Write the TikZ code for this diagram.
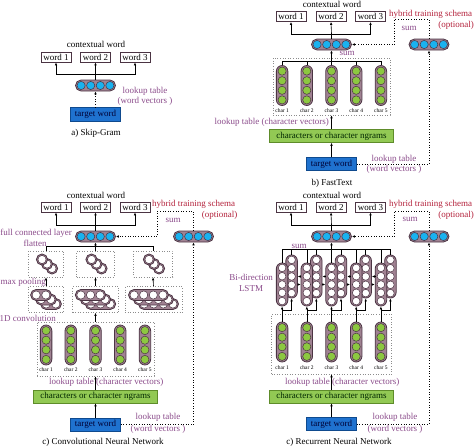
\documentclass[tikz,border=0pt]{standalone}
\usepackage{fontspec}
\setmainfont{Liberation Serif}
\usetikzlibrary{calc,arrows.meta}

\definecolor{edge}{HTML}{4B3443}
\definecolor{mauve}{HTML}{A08292}
\definecolor{cblue}{HTML}{1AB2EF}
\definecolor{cgreen}{HTML}{8CC840}
\definecolor{tblue}{HTML}{1F72CF}
\definecolor{tbord}{HTML}{0F4A8E}
\definecolor{gfill}{HTML}{92C954}
\definecolor{gbord}{HTML}{5E8C2A}
\definecolor{lab}{HTML}{8A4A8A}
\definecolor{hyb}{HTML}{B3203A}
\definecolor{dotc}{HTML}{8C8C8C}

\tikzset{
 txt/.style={font=\fontsize{9}{10.5}\selectfont, inner sep=0pt},
 labtxt/.style={txt, text=lab},
 hybtxt/.style={txt, text=hyb},
 chartxt/.style={font=\fontsize{5.5}{6}\selectfont, inner sep=0pt},
 wordbox/.style={draw=edge, fill=white, line width=0.8pt, minimum width=30pt, minimum height=10pt, inner sep=0pt, font=\fontsize{9}{10}\selectfont},
 targetbox/.style={draw=tbord, fill=tblue, line width=0.6pt, minimum width=50pt, minimum height=13pt, inner sep=0pt, text={black!80!blue}, font=\fontsize{9}{10}\selectfont},
 greenbox/.style={draw=gbord, fill=gfill, line width=0.6pt, minimum width=124pt, minimum height=13pt, inner sep=0pt, text={black!85!green}, font=\fontsize{9}{10}\selectfont},
 vecbox/.style={draw=edge, fill=mauve, line width=0.8pt, rounded corners=5.5pt, inner sep=0pt},
 cc/.style={draw=edge, line width=0.5pt},
 dotbox/.style={draw=dotc, dotted, line width=0.6pt, inner sep=0pt},
 arr/.style={-{Latex[length=3pt,width=2.6pt]}, line width=0.6pt},
 ln/.style={line width=0.6pt},
 dotarr/.style={arr, dotted, line width=0.8pt},
}

\newcommand{\mkHvec}[5]{%
 \node[vecbox, minimum width={#4*9.6pt+1.6pt}, minimum height=11pt] (#1) at (#2,#3) {};
 \foreach \k in {1,...,#4}{\fill[#5, cc] ({#2+(\k-(#4+1)/2)*9.6},#3) circle[radius=4.1pt];}
}
\newcommand{\mkVvec}[7]{%
 \node[vecbox, rounded corners=5.75pt, minimum width=11.5pt, minimum height={#4*#6pt+1.6pt}] (#1) at (#2,#3) {};
 \foreach \k in {1,...,#4}{\fill[#5, cc] (#2,{#3+(\k-(#4+1)/2)*#6}) circle[radius=#7pt];}
}
\newcommand{\mkStack}[3]{%
 \foreach \L in {2,1,0}{
  \pgfmathsetmacro{\stX}{#1-5+5*\L}
  \pgfmathsetmacro{\stY}{#2-4.5+4.5*\L}
  \fill[vecbox] ({\stX-(#3*9.6+1.6)/2},{\stY-5.5}) rectangle ({\stX+(#3*9.6+1.6)/2},{\stY+5.5});
  \foreach \k in {1,...,#3}{\fill[white, cc] ({\stX+(\k-(#3+1)/2)*9.6},\stY) circle[radius=4.1pt];}
 }
}

\begin{document}
\begin{tikzpicture}[x=1pt,y=-1pt]
\useasboundingbox (0,0) rectangle (474,447);

%================ a) Skip-Gram
\node[txt] (actx) at (96,44) {contextual word};
\node[wordbox] (aw1) at (56,57) {word 1};
\node[wordbox] (aw2) at (95.5,57) {word 2};
\node[wordbox] (aw3) at (135,57) {word 3};
\mkHvec{avec}{95.5}{85.5}{4}{cblue}
\node[targetbox, minimum height=14pt] (atw) at (95.5,114.5) {target word};
\coordinate (aj) at (95.5,74);
\draw[ln] (avec.north) -- (aj);
\draw[arr] (aj) -| (aw1.south);
\draw[arr] (aj) -| (aw3.south);
\draw[arr] (aj) -- (aw2.south);
\draw[dotarr] (atw.north) -- (avec.south);
\node[labtxt] (alk1) at (145,91) {lookup table};
\node[labtxt] (alk2) at (145,101.5) {(word vectors )};
\node[txt] (acap) at (96,133) {a) Skip-Gram};

%================ b) FastText
\node[txt] (bctx) at (332,4.5) {contextual word};
\node[wordbox] (bw1) at (291,16.5) {word 1};
\node[wordbox] (bw2) at (331,16.5) {word 2};
\node[wordbox] (bw3) at (370.5,16.5) {word 3};
\node[hybtxt, anchor=west] (bhy) at (389,14) {hybrid training schema};
\node[hybtxt, anchor=east] (bop) at (474,25) {(optional)};
\mkHvec{bvec}{331.5}{44.5}{4}{cblue}
\mkHvec{bvec2}{429}{44.5}{4}{cblue}
\coordinate (bj) at (331.5,34);
\draw[ln] (bvec.north) -- (bj);
\draw[arr] (bj) -| (bw1.south);
\draw[arr] (bj) -| (bw3.south);
\draw[arr] (bj) -- (bw2.south);
\node[labtxt] (bsum1) at (409,28) {sum};
\draw[dotarr] (bvec2.north) -- ++(0,-19) -| ($(bvec.east)+(42,0)$) -- (bvec.east);
\node[labtxt] (bsum2) at (347,53) {sum};
\node[dotbox, minimum width=117pt, minimum height=57pt] (bcbox) at (331.5,86.5) {};
\foreach \i in {1,...,5}{
 \pgfmathsetmacro{\chX}{331.5+(\i-3)*24.7}
 \mkVvec{bc\i}{\chX}{85.5}{4}{cgreen}{9.6}{4.1}
 \node[chartxt] (bcl\i) at (\chX,111) {char \i};
}
\draw[ln] (bc1.north) -- ++(0,-4) -| (bc5.north);
\draw[ln] (bc2.north) -- ++(0,-4);
\draw[ln] (bc4.north) -- ++(0,-4);
\draw[arr] (bc3.north) -- (bvec.south);
\node[labtxt, anchor=east] (blkc) at (329,122) {lookup table (character vectors)};
\node[greenbox] (bgr) at (331.5,136) {characters or character ngrams};
\draw[arr] (bgr.north) -- (bcbox.south);
\node[targetbox] (btw) at (331.5,164) {target word};
\draw[arr] (btw.north) -- (bgr.south);
\draw[dotarr] (btw.east) -| (bvec2.south);
\node[labtxt] (blk1) at (394,159) {lookup table};
\node[labtxt] (blk2) at (394,169.5) {(word vectors )};
\node[txt] (bcap) at (332,183) {b) FastText};

%================ c) CNN
\node[txt] (cctx) at (96,195) {contextual word};
\node[wordbox] (cw1) at (56,207) {word 1};
\node[wordbox] (cw2) at (95.5,207) {word 2};
\node[wordbox] (cw3) at (135,207) {word 3};
\node[hybtxt, anchor=west] (chy) at (152,204) {hybrid training schema};
\node[hybtxt, anchor=east] (cop) at (237.5,215) {(optional)};
\mkHvec{cvec}{95.5}{236.5}{4}{cblue}
\mkHvec{cvec2}{193.5}{236.5}{4}{cblue}
\coordinate (cj) at (95.5,225);
\draw[ln] (cvec.north) -- (cj);
\draw[arr] (cj) -| (cw1.south);
\draw[arr] (cj) -| (cw3.south);
\draw[arr] (cj) -- (cw2.south);
\node[labtxt] (csum1) at (173,220) {sum};
\draw[dotarr] (cvec2.north) -- ++(0,-19) -| ($(cvec.east)+(41,0)$) -- (cvec.east);
\node[labtxt, anchor=east] (cfc) at (72,233) {full connected layer};
\node[labtxt] (cfl) at (35,243) {flatten};
\node[dotbox, minimum width=35pt, minimum height=26pt] (cp1) at (46,264) {};
\node[dotbox, minimum width=38pt, minimum height=26pt] (cp2) at (95.5,264) {};
\node[dotbox, minimum width=39pt, minimum height=26pt] (cp3) at (153,264) {};
\mkStack{47}{264}{1}
\mkStack{96.5}{264}{1}
\mkStack{154}{264}{1}
\node[dotbox, minimum width=35pt, minimum height=26pt] (cv1) at (46,299.5) {};
\node[dotbox, minimum width=46pt, minimum height=26pt] (cv2) at (95.5,299.5) {};
\node[dotbox, minimum width=57pt, minimum height=26pt] (cv3) at (153.5,299.5) {};
\mkStack{46}{299.5}{2}
\mkStack{95.5}{299.5}{3}
\mkStack{153.5}{299.5}{4}
\draw[ln] (cp1.north) -- ++(0,-4) -| (cp3.north);
\draw[arr] (cp2.north) -- (cvec.south);
\draw[arr] (cv1.north) -- (cp1.south);
\draw[arr] (cv2.north) -- (cp2.south);
\draw[arr] (cv3.north) -- (cp3.south);
\node[labtxt, anchor=east] (cmp) at (46,282) {max pooling};
\node[labtxt, anchor=east] (ccv) at (56,318) {1D convolution};
\node[dotbox, minimum width=117pt, minimum height=54pt] (ccbox) at (95.5,349) {};
\foreach \i in {1,...,5}{
 \pgfmathsetmacro{\chX}{95.5+(\i-3)*24.7}
 \mkVvec{cc\i}{\chX}{345}{4}{cgreen}{9.6}{4.1}
 \node[chartxt] (ccl\i) at (\chX,370) {char \i};
}
\draw[arr] (ccbox.north) -- (cv2.south);
\node[labtxt, anchor=west] (clkc) at (49,382) {lookup table (character vectors)};
\node[greenbox] (cgr) at (95.5,396.5) {characters or character ngrams};
\draw[arr] (cgr.north) -- (ccbox.south);
\node[targetbox] (ctw) at (95.5,424.5) {target word};
\draw[arr] (ctw.north) -- (cgr.south);
\draw[dotarr] (ctw.east) -| (cvec2.south);
\node[labtxt] (clk1) at (158,417) {lookup table};
\node[labtxt] (clk2) at (158,429) {(word vectors )};
\node[txt] (ccap) at (103,442) {c) Convolutional Neural Network};

%================ d) RNN
\node[txt] (dctx) at (332,195) {contextual word};
\node[wordbox] (dw1) at (291,207) {word 1};
\node[wordbox] (dw2) at (331,207) {word 2};
\node[wordbox] (dw3) at (370.5,207) {word 3};
\node[hybtxt, anchor=west] (dhy) at (389,204) {hybrid training schema};
\node[hybtxt, anchor=east] (dop) at (474,215) {(optional)};
\mkHvec{dvec}{331.5}{236.5}{4}{cblue}
\mkHvec{dvec2}{429}{236.5}{4}{cblue}
\coordinate (dj) at (331.5,225);
\draw[ln] (dvec.north) -- (dj);
\draw[arr] (dj) -| (dw1.south);
\draw[arr] (dj) -| (dw3.south);
\draw[arr] (dj) -- (dw2.south);
\node[labtxt] (dsum1) at (410,219) {sum};
\draw[dotarr] (dvec2.north) -- ++(0,-19) -| ($(dvec.east)+(42,0)$) -- (dvec.east);
\node[labtxt] (dsum2) at (299,246) {sum};
\node[labtxt, align=center] (dbi) at (251,283) {Bi-direction\\LSTM};
\foreach \i in {1,...,5}{
 \pgfmathsetmacro{\chX}{331.5+(\i-3)*24.7}
 \pgfmathsetmacro{\chB}{\chX+9.5}
 \mkVvec{ub\i}{\chB}{276.5}{5}{white}{8.3}{3.8}
 \mkVvec{uf\i}{\chX}{284.5}{5}{white}{8.3}{3.8}
}
\draw[ln] (uf1.north) -- ++(0,-13.5) -| (ub5.north);
\foreach \i in {2,4,5}{\draw[ln] (uf\i.north) -- ++(0,-13.5);}
\foreach \i in {1,...,4}{\draw[ln] (ub\i.north) -- ++(0,-5.5);}
\draw[arr] (uf3.north) -- (dvec.south);
\foreach \i/\j in {1/2,2/3,3/4,4/5}{
 \draw[arr] (ub\i.east |- uf\j.west) -- (uf\j.west);
 \draw[arr] (uf\j.west |- ub\i.east) -- (ub\i.east);
}
\node[dotbox, minimum width=120pt, minimum height=60pt] (dcbox) at (331.5,344) {};
\foreach \i in {1,...,5}{
 \pgfmathsetmacro{\chX}{331.5+(\i-3)*24.7}
 \mkVvec{dc\i}{\chX}{342}{4}{cgreen}{9.6}{4.1}
 \node[chartxt] (dcl\i) at (\chX,368) {char \i};
 \draw[arr] (dc\i.north) -- (uf\i.south);
 \draw[arr] ($(dc\i.north)+(0,-11)$) -| (ub\i.south);
}
\node[labtxt, anchor=west] (dlkc) at (285,382) {lookup table (character vectors)};
\node[greenbox] (dgr) at (331.5,396.5) {characters or character ngrams};
\draw[arr] (dgr.north) -- (dcbox.south);
\node[targetbox] (dtw) at (331.5,424) {target word};
\draw[arr] (dtw.north) -- (dgr.south);
\draw[dotarr] (dtw.east) -| (dvec2.south);
\node[labtxt] (dlk1) at (395,417) {lookup table};
\node[labtxt] (dlk2) at (395,429) {(word vectors )};
\node[txt] (dcap) at (339,442) {c) Recurrent Neural Network};
\end{tikzpicture}
\end{document}
